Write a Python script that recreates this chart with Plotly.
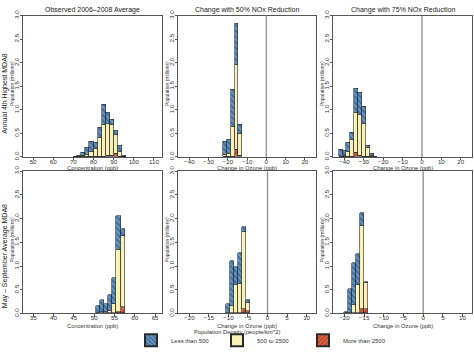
import plotly.graph_objects as go

# ---------------- data (population in millions per bin) ----------------
# Row 1: annual 4th highest MDA8
obs_annual_x = [71, 73, 75, 77, 79, 81, 83, 85, 87, 89, 91, 93, 95]
obs_annual_high = [0, 0, 0, 0, 0, 0, 0, 0.01, 0.02, 0.03, 0.08, 0.01, 0]
obs_annual_mid = [0, 0.01, 0.02, 0.05, 0.12, 0.18, 0.40, 0.67, 0.68, 0.65, 0.40, 0.10, 0.01]
obs_annual_low = [0.01, 0.02, 0.08, 0.15, 0.21, 0.12, 0.22, 0.44, 0.25, 0.12, 0.07, 0.12, 0.02]

n50_annual_x = [-21.5, -19.5, -17.5, -15.5, -13.5]
n50_annual_high = [0, 0, 0.01, 0.15, 0.02]
n50_annual_mid = [0.05, 0.08, 0.63, 1.80, 0.48]
n50_annual_low = [0.27, 0.29, 0.78, 0.88, 0.18]

n75_annual_x = [-42, -40, -38, -36, -34, -32, -30, -28, -26, -24]
n75_annual_high = [0, 0, 0, 0, 0.10, 0.03, 0.01, 0, 0, 0]
n75_annual_mid = [0.01, 0.02, 0.12, 0.37, 0.85, 0.87, 0.69, 0.20, 0.03, 0]
n75_annual_low = [0.14, 0.11, 0.18, 0.14, 0.51, 0.47, 0.36, 0.04, 0.04, 0.01]

# Row 2: May - September average MDA8
obs_season_x = [51, 52, 53, 54, 55, 56, 57]
obs_season_high = [0, 0, 0, 0, 0, 0.02, 0.14]
obs_season_mid = [0.01, 0.02, 0.03, 0.05, 0.20, 1.31, 1.49]
obs_season_low = [0.15, 0.25, 0.17, 0.34, 0.55, 0.73, 0.15]

n50_season_x = [-10, -9, -8, -7, -6, -5]
n50_season_high = [0, 0, 0, 0.01, 0.09, 0.05]
n50_season_mid = [0.01, 0.15, 0.60, 0.60, 1.63, 0.17]
n50_season_low = [0.18, 0.95, 0.38, 0.66, 0.10, 0.05]

n75_season_x = [-19.5, -18.5, -17.5, -16.5, -15.5, -14.5]
n75_season_high = [0, 0, 0, 0, 0.09, 0.08]
n75_season_mid = [0, 0, 0.17, 0.59, 1.75, 0.56]
n75_season_low = [0.02, 0.51, 0.90, 0.66, 0.28, 0.02]

col_titles = ["Observed 2006\u20132008 Average", "Change with 50% NOx Reduction",
              "Change with 75% NOx Reduction"]
row_titles = ["Annual 4th Highest MDA8", "May \u2013 September Average MDA8"]
class_names = ["Less than 500", "500 to 2500", "More than 2500"]
legend_title = "Population Density (people/km^2)"
y_title = "Population (millions)"

panels = [
    dict(x=obs_annual_x, low=obs_annual_low, mid=obs_annual_mid, high=obs_annual_high,
         w=2, rng=[45.0, 114.0], dt=10, xt="Concentration (ppb)", zero=False),
    dict(x=n50_annual_x, low=n50_annual_low, mid=n50_annual_mid, high=n50_annual_high,
         w=2, rng=[-45.9, 25.8], dt=10, xt="Change in Ozone (ppb)", zero=True),
    dict(x=n75_annual_x, low=n75_annual_low, mid=n75_annual_mid, high=n75_annual_high,
         w=2, rng=[-45.9, 25.8], dt=10, xt="Change in Ozone (ppb)", zero=True),
    dict(x=obs_season_x, low=obs_season_low, mid=obs_season_mid, high=obs_season_high,
         w=1, rng=[32.5, 66.7], dt=5, xt="Concentration (ppb)", zero=False),
    dict(x=n50_season_x, low=n50_season_low, mid=n50_season_mid, high=n50_season_high,
         w=1, rng=[-22.9, 12.4], dt=5, xt="Change in Ozone (ppb)", zero=True),
    dict(x=n75_season_x, low=n75_season_low, mid=n75_season_mid, high=n75_season_high,
         w=1, rng=[-22.9, 12.4], dt=5, xt="Change in Ozone (ppb)", zero=True),
]

# ---------------- style ----------------
W, H = 474, 355
FONT = "Liberation Sans, Arial, Helvetica, sans-serif"
BLUE, BLUE_FG = "#3E74A6", "#B9D0E6"
YELLOW = "#F9F1B5"
RED, RED_FG = "#C4482A", "#EFA57F"
EDGE = "#2a2a2a"
FRAME = "#555555"
TXT = "#333333"

col_px = [(23, 162), (178, 316), (333, 472)]
row_px = [(10, 158), (173, 322)]
xtitle_px = [170, 335]
rowlabel_center_px = [92, 262]


def px_x(v):
    return v / W


def px_y(v):
    return 1 - v / H


fig = go.Figure()
for i, p in enumerate(panels):
    r, c = divmod(i, 3)
    k = i + 1
    xa = "x" if k == 1 else f"x{k}"
    ya = "y" if k == 1 else f"y{k}"
    show = (i == 0)
    fig.add_trace(go.Bar(x=p["x"], y=p["high"], width=p["w"], xaxis=xa, yaxis=ya,
                         name=class_names[2], legendgroup="h", showlegend=show, legendrank=3,
                         marker=dict(color=RED, line=dict(color=EDGE, width=0.6),
                                     pattern=dict(shape="/", fgcolor=RED_FG, size=4, solidity=0.35))))
    fig.add_trace(go.Bar(x=p["x"], y=p["mid"], width=p["w"], xaxis=xa, yaxis=ya,
                         name=class_names[1], legendgroup="m", showlegend=show, legendrank=2,
                         marker=dict(color=YELLOW, line=dict(color=EDGE, width=0.6))))
    fig.add_trace(go.Bar(x=p["x"], y=p["low"], width=p["w"], xaxis=xa, yaxis=ya,
                         name=class_names[0], legendgroup="l", showlegend=show, legendrank=1,
                         marker=dict(color=BLUE, line=dict(color=EDGE, width=0.6),
                                     pattern=dict(shape="\\", fgcolor=BLUE_FG, size=4, solidity=0.35))))

    x0, x1 = col_px[c]
    y0, y1 = row_px[r]
    axis_common = dict(showline=True, linecolor=FRAME, linewidth=1, mirror=True,
                       ticks="outside", ticklen=2.5, tickcolor=FRAME, showgrid=False,
                       zeroline=False, tickfont=dict(size=6.2, color=TXT, family=FONT))
    fig.layout[("xaxis" if k == 1 else f"xaxis{k}")] = dict(
        domain=[px_x(x0), px_x(x1)], anchor=ya, range=p["rng"], dtick=p["dt"], tick0=0,
        ticklabelstandoff=-4, **axis_common)
    fig.layout[("yaxis" if k == 1 else f"yaxis{k}")] = dict(
        domain=[px_y(y1), px_y(y0)], anchor=xa, range=[0, 3.0], dtick=0.5, tick0=0,
        tickformat=".1f", tickangle=-90, ticklabelstandoff=-2, **axis_common)
    if p["zero"]:
        fig.add_shape(type="line", xref=xa, yref=f"{ya} domain", x0=0, x1=0, y0=0, y1=1,
                      line=dict(color="#999999", width=1.5), layer="below")
    # x-axis title
    fig.add_annotation(text=p["xt"], x=px_x((x0 + x1) / 2), y=px_y(xtitle_px[r]),
                       xref="paper", yref="paper", xanchor="center", yanchor="middle",
                       showarrow=False, font=dict(size=5.8, color=TXT, family=FONT))
    # y-axis title
    fig.add_annotation(text=y_title, x=px_x(x0 - 11), y=px_y((y0 + y1) / 2 - 2),
                       xref="paper", yref="paper", xanchor="center", yanchor="middle",
                       textangle=-90, showarrow=False, font=dict(size=5, color=TXT, family=FONT))

for c, t in enumerate(col_titles):
    x0, x1 = col_px[c]
    fig.add_annotation(text=t, x=px_x((x0 + x1) / 2), y=px_y(4.5), xref="paper", yref="paper",
                       xanchor="center", yanchor="middle", showarrow=False,
                       font=dict(size=7, color="#222", family=FONT))
for r, t in enumerate(row_titles):
    fig.add_annotation(text=t, x=px_x(5), y=px_y(rowlabel_center_px[r]), xref="paper", yref="paper",
                       xanchor="center", yanchor="middle", textangle=-90, showarrow=False,
                       font=dict(size=7, color="#222", family=FONT))

fig.add_annotation(text=legend_title, x=px_x(237), y=px_y(341.5), xref="paper", yref="paper",
                   xanchor="center", yanchor="middle", showarrow=False,
                   font=dict(size=5.8, color=TXT, family=FONT))

fig.update_layout(
    width=W, height=H, margin=dict(l=0, r=0, t=0, b=0),
    barmode="stack", bargap=0,
    paper_bgcolor="white", plot_bgcolor="white",
    font=dict(family=FONT, color="#222"),
    legend=dict(orientation="h", x=px_x(131), xanchor="left", y=px_y(350), yanchor="middle",
                entrywidth=41, entrywidthmode="pixels", traceorder="normal",
                font=dict(size=6, family=FONT, color=TXT), itemsizing="constant",
                bgcolor="rgba(0,0,0,0)", tracegroupgap=0),
)

fig.write_html("out.html", config={"displayModeBar": False},
               post_script="document.body.style.margin='0px';document.body.style.overflow='hidden';")
